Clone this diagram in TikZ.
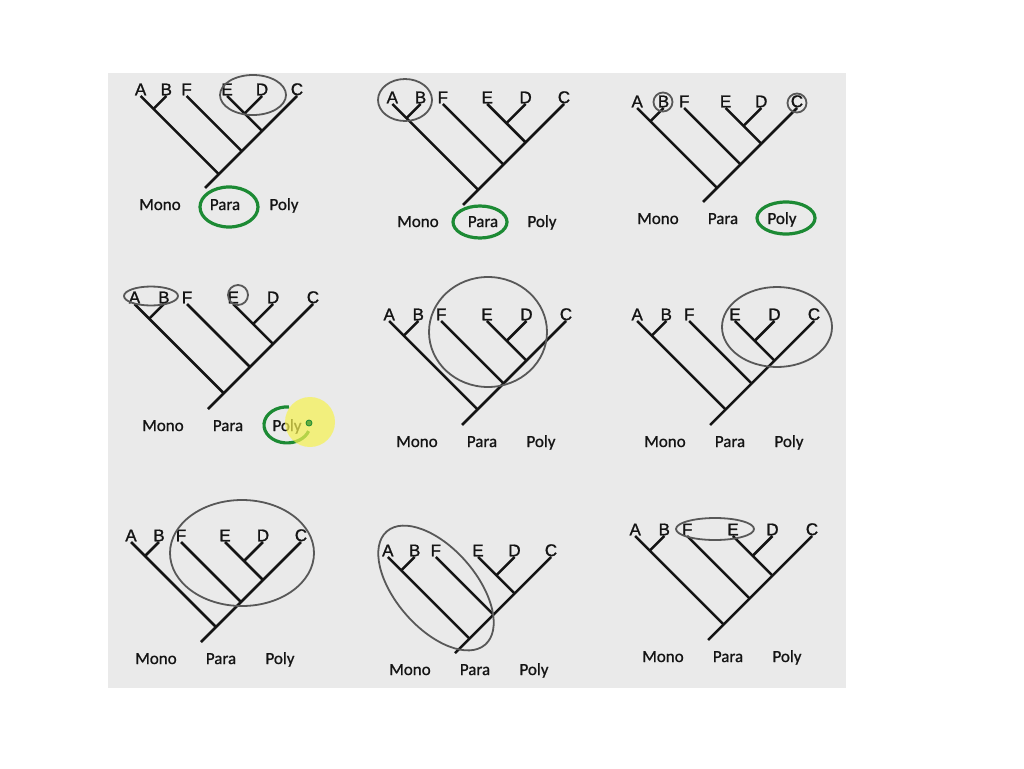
\documentclass[tikz,border=0pt]{standalone}
\usepackage{fontspec}
\setmainfont{Liberation Sans}
\newfontfamily\tipfont[FakeBold=1.2]{Liberation Sans}
\newfontfamily\calibfont[FakeBold=0.8]{Carlito}
\usetikzlibrary{shapes.geometric}
\definecolor{paper}{RGB}{234,234,234}
\definecolor{penink}{RGB}{20,20,20}
\definecolor{ringgray}{RGB}{88,88,88}
\definecolor{markgreen}{RGB}{28,138,52}
\definecolor{hiyellow}{RGB}{246,242,80}
\tikzset{
  branch/.style={draw=penink, line width=2.5pt},
  tiplabel/.style={anchor=south, inner sep=0.5pt, text=penink, font=\tipfont\fontsize{17}{17}\selectfont},
  grouplabel/.style={anchor=base, inner sep=0pt, text=penink, font=\calibfont\fontsize{17}{17}\selectfont},
  ring/.style={ellipse, draw=ringgray, line width=1.8pt, inner sep=0pt},
  greenring/.style={ellipse, draw=markgreen, line width=3.2pt, inner sep=0pt},
}
% #1 prefix, #2 root x, #3 root y, #4 height of the tree
\newcommand{\cladotree}[4]{%
  \begin{scope}[shift={(#2,#3)}]
    \coordinate (#1root) at (0,0);
    \coordinate (#1n1) at ({0.15*#4},{-0.15*#4});
    \coordinate (#1n2) at ({0.40*#4},{-0.40*#4});
    \coordinate (#1n3) at ({0.62*#4},{-0.62*#4});
    \coordinate (#1C)  at ({#4},{-#4});
    \coordinate (#1A)  at ({-0.70*#4},{-#4});
    \coordinate (#1AB) at ({-0.56*#4},{-0.86*#4});
    \coordinate (#1B)  at ({-0.42*#4},{-#4});
    \coordinate (#1F)  at ({-0.20*#4},{-#4});
    \coordinate (#1E)  at ({0.24*#4},{-#4});
    \coordinate (#1ED) at ({0.43*#4},{-0.81*#4});
    \coordinate (#1D)  at ({0.62*#4},{-#4});
    \node[grouplabel] (#1mono) at (-45,22) {Mono};
    \node[grouplabel] (#1para) at (20,22) {Para};
    \node[grouplabel] (#1poly) at (79,22) {Poly};
  \end{scope}
  \draw[branch] (#1root) -- (#1C);
  \draw[branch] (#1n1) -- (#1A);
  \draw[branch] (#1AB) -- (#1B);
  \draw[branch] (#1n2) -- (#1F);
  \draw[branch] (#1n3) -- (#1E);
  \draw[branch] (#1ED) -- (#1D);
  \node[tiplabel] (#1lA) at (#1A) {A};
  \node[tiplabel] (#1lB) at (#1B) {B};
  \node[tiplabel] (#1lF) at (#1F) {F};
  \node[tiplabel] (#1lE) at (#1E) {E};
  \node[tiplabel] (#1lD) at (#1D) {D};
  \node[tiplabel] (#1lC) at (#1C) {C};
}
\begin{document}
\begin{tikzpicture}[x=1pt,y=-1pt]
  \useasboundingbox (0,0) rectangle (1024,768);
  \fill[white] (0,0) rectangle (1024,768);
  \fill[paper] (108,73) rectangle (846,688);

  \cladotree{ta}{205}{188}{92}
  \cladotree{tb}{463}{205}{101}
  \cladotree{tc}{703}{202}{94}
  \cladotree{td}{208}{409}{105}
  \cladotree{te}{462}{425}{104}
  \cladotree{tf}{710}{425}{104}
  \cladotree{tg}{201}{642}{100}
  \cladotree{th}{455}{653}{96}
  \cladotree{ti}{708}{640}{104}

  % gray rings
  \node[ring, minimum width=66pt, minimum height=40pt] (taring) at (253,95) {};
  \node[ring, minimum width=54pt, minimum height=42pt] (tbring) at (405,100) {};
  \node[ring, minimum width=19pt, minimum height=19pt] (tcringB) at (663,102) {};
  \node[ring, minimum width=19pt, minimum height=19pt] (tcringC) at (797,103) {};
  \node[ring, minimum width=54pt, minimum height=19pt] (tdringAB) at (151,296) {};
  \node[ring, minimum width=20pt, minimum height=20pt] (tdringE) at (238,295) {};
  \node[ring, minimum width=118pt, minimum height=110pt] (tering) at (488,332) {};
  \node[ring, minimum width=110pt, minimum height=80pt] (tfring) at (777,327) {};
  \node[ring, minimum width=144pt, minimum height=106pt] (tgring) at (242,553) {};
  \node[ring, minimum width=150pt, minimum height=80pt, rotate=-49] (thring) at (436,588) {};
  \node[ring, minimum width=78pt, minimum height=22pt] (tiring) at (715,529) {};

  % green marks
  \node[greenring, minimum width=58pt, minimum height=40pt] (tagreen) at (229,207) {};
  \node[greenring, minimum width=54pt, minimum height=32pt] (tbgreen) at (480,222) {};
  \node[greenring, minimum width=58pt, minimum height=32pt] (tcgreen) at (786,218) {};
  \coordinate (tdgreenc) at (287,425);
  \draw[markgreen, line width=3.2pt] ([shift={(2,-18)}]tdgreenc)
      arc[start angle=275, end angle=20, x radius=23, y radius=18];
  \fill[hiyellow, opacity=0.7] (310,422) circle[radius=25];
  \filldraw[fill=markgreen!65!hiyellow, draw=markgreen, line width=0.8pt] (309,423) circle[radius=3];
\end{tikzpicture}
\end{document}
